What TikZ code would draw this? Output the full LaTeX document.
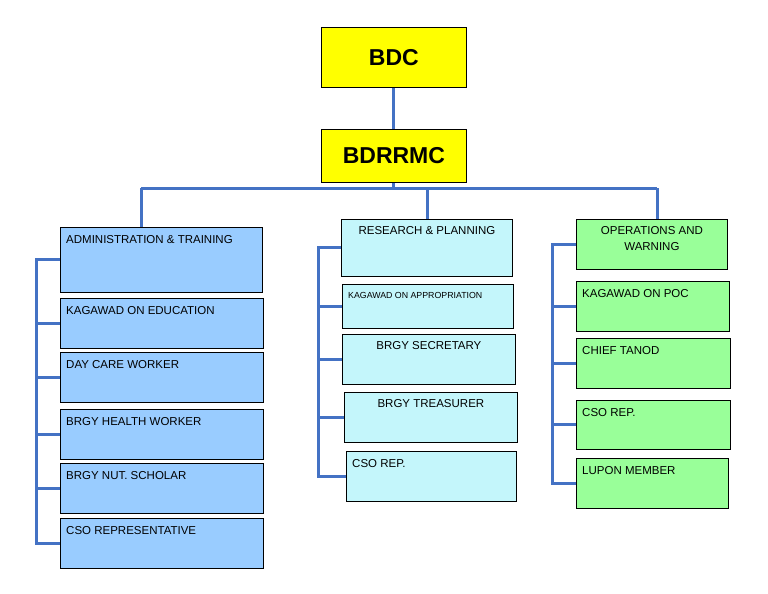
\documentclass[tikz,border=0pt]{standalone}
\usepackage{fontspec}
\setmainfont{Liberation Sans}
\usetikzlibrary{positioning}
\definecolor{linkblue}{HTML}{4472C4}
\definecolor{topyellow}{HTML}{FFFF00}
\definecolor{adminblue}{HTML}{99CCFF}
\definecolor{plancyan}{HTML}{C4F6FB}
\definecolor{opsgreen}{HTML}{99FF99}
\tikzset{
  box/.style={draw=black, line width=0.8pt, anchor=north west, inner sep=0pt},
  topbox/.style={box, fill=topyellow, font=\bfseries\fontsize{23}{26}\selectfont},
  link/.style={draw=linkblue, line width=3pt},
  tl/.style={label={[anchor=north west, font=\fontsize{11.5}{13}\selectfont, inner sep=0pt, xshift=6pt, yshift=-8pt]north west:#1}},
  tc/.style={label={[anchor=north, font=\fontsize{11.5}{13}\selectfont, inner sep=0pt, yshift=-7pt, align=center]north:#1}}
}
\begin{document}
\begin{tikzpicture}[x=1pt, y=-1pt]
  \useasboundingbox (0,0) rectangle (768,594);
  % top
  \node[topbox, minimum width=145pt, minimum height=60pt] (bdc) at (321,27) {BDC};
  \node[topbox, minimum width=145pt, minimum height=53pt] (bdrrmc) at (321,129) {BDRRMC};
  \coordinate (busL) at (141,188);
  \coordinate (busM) at (427,188);
  \coordinate (busR) at (657,188);
  % left column
  \node[box, fill=adminblue, minimum width=202pt, minimum height=65pt, tl={ADMINISTRATION \& TRAINING}] (adm) at (60,227) {};
  \node[box, fill=adminblue, minimum width=203pt, minimum height=50pt, tl={KAGAWAD ON EDUCATION}] (kedu) at (60,298) {};
  \node[box, fill=adminblue, minimum width=203pt, minimum height=50pt, tl={DAY CARE WORKER}] (dcw) at (60,352) {};
  \node[box, fill=adminblue, minimum width=203pt, minimum height=50pt, tl={BRGY HEALTH WORKER}] (bhw) at (60,409) {};
  \node[box, fill=adminblue, minimum width=203pt, minimum height=50pt, tl={BRGY NUT. SCHOLAR}] (bns) at (60,463) {};
  \node[box, fill=adminblue, minimum width=203pt, minimum height=50pt, tl={CSO REPRESENTATIVE}] (csoL) at (60,518) {};
  % middle column
  \node[box, fill=plancyan, minimum width=171pt, minimum height=57pt, tc={RESEARCH \& PLANNING}] (res) at (341,219) {};
  \node[box, fill=plancyan, minimum width=171pt, minimum height=44pt, tl={\fontsize{8.8}{10}\selectfont KAGAWAD ON APPROPRIATION}] (kapp) at (342,284) {};
  \node[box, fill=plancyan, minimum width=173pt, minimum height=50pt, tc={BRGY SECRETARY}] (sec) at (342,334) {};
  \node[box, fill=plancyan, minimum width=173pt, minimum height=50pt, tc={BRGY TREASURER}] (tre) at (344,392) {};
  \node[box, fill=plancyan, minimum width=170pt, minimum height=50pt, tl={CSO REP.}] (csoM) at (346,451) {};
  % right column
  \node[box, fill=opsgreen, minimum width=151pt, minimum height=50pt, tc={OPERATIONS AND\\[3pt]WARNING}] (ops) at (576,219) {};
  \node[box, fill=opsgreen, minimum width=153pt, minimum height=50pt, tl={KAGAWAD ON POC}] (poc) at (576,281) {};
  \node[box, fill=opsgreen, minimum width=154pt, minimum height=50pt, tl={CHIEF TANOD}] (tanod) at (576,338) {};
  \node[box, fill=opsgreen, minimum width=154pt, minimum height=49pt, tl={CSO REP.}] (csoR) at (576,400) {};
  \node[box, fill=opsgreen, minimum width=152pt, minimum height=50pt, tl={LUPON MEMBER}] (lupon) at (576,458) {};
  % connectors
  \draw[link] (bdc) -- (bdrrmc);
  \draw[link] (bdrrmc.south) -- (bdrrmc.south |- busM);
  \draw[link] (busL) -- (busR);
  \draw[link] (busL) -- (busL |- adm.north);
  \draw[link] (busM) -- (busM |- res.north);
  \draw[link] (busR) -- (busR |- ops.north);
  \coordinate (barL) at (36,0);
  \coordinate (barM) at (318,0);
  \coordinate (barR) at (552,0);
  \draw[link] (adm.west) -- (adm.west -| barL) -- (csoL.west -| barL) -- (csoL.west);
  \foreach \n in {kedu,dcw,bhw,bns} \draw[link] (\n.west) -- (\n.west -| barL);
  \draw[link] (res.west) -- (res.west -| barM) -- (csoM.west -| barM) -- (csoM.west);
  \foreach \n in {kapp,sec,tre} \draw[link] (\n.west) -- (\n.west -| barM);
  \draw[link] (ops.west) -- (ops.west -| barR) -- (lupon.west -| barR) -- (lupon.west);
  \foreach \n in {poc,tanod,csoR} \draw[link] (\n.west) -- (\n.west -| barR);
\end{tikzpicture}
\end{document}
